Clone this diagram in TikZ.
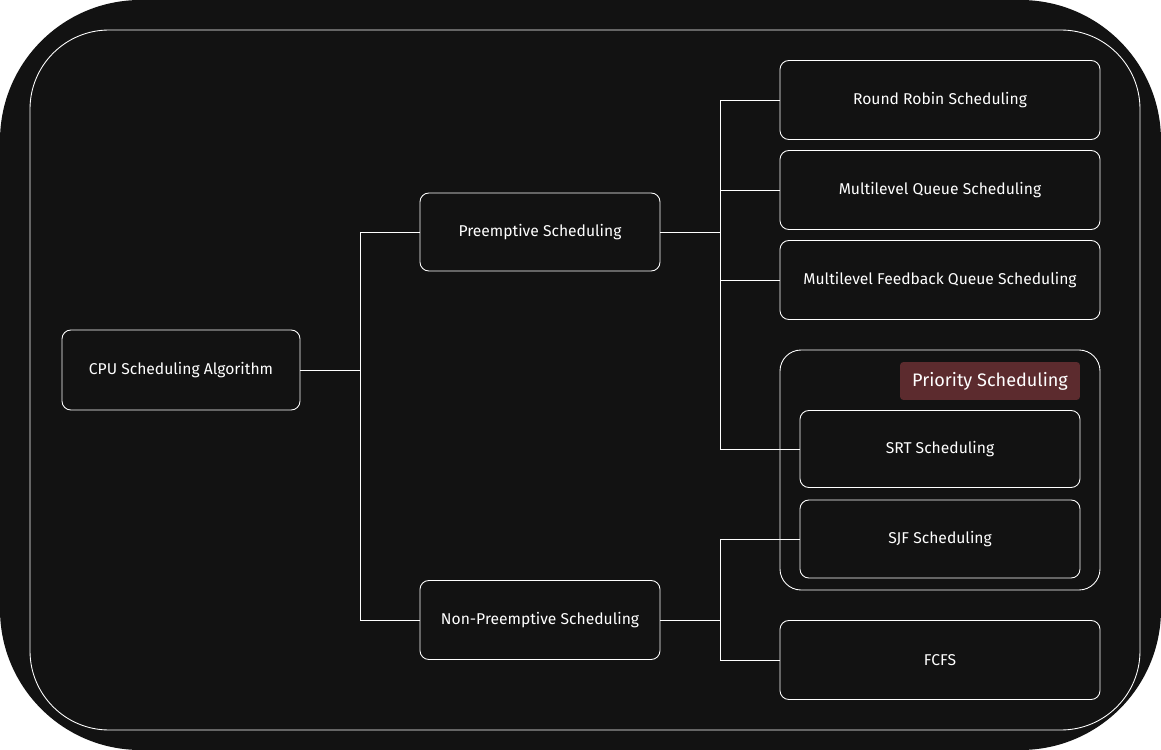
\documentclass[tikz,border=0pt]{standalone}
\usepackage{fontspec}
\setmainfont{Fira Sans}
\definecolor{bgdark}{HTML}{121212}
\definecolor{prio}{HTML}{5C2B2E}
\tikzset{
  box/.style={draw=white, rounded corners=5pt, fill=bgdark, text=white,
    font=\fontsize{8.9}{10}\selectfont, line width=0.5pt},
  link/.style={draw=white, line width=0.5pt}
}
\begin{document}
\begin{tikzpicture}[x=0.02cm, y=-0.02cm]
    \useasboundingbox (0,0) rectangle (1161,750);
    \fill[white] (0,0) rectangle (1161,750);
    \fill[black!93] (0,0) [rounded corners=80pt] rectangle (1161,750);
    \draw[white, line width=0.5pt, rounded corners=45pt] (30,30) rectangle (1140,730);

    % group
    \draw[white, line width=0.5pt, rounded corners=12pt] (780,350) rectangle (1100,590);
    \node[fill=prio, text=white, minimum width=3.6cm, minimum height=0.76cm,
      font=\fontsize{10.3}{12}\selectfont, rounded corners=2pt] (prio) at (990,381) {Priority Scheduling};

    % nodes
    \node[box, minimum width=4.76cm, minimum height=1.6cm] (cpu) at (181,370) {CPU Scheduling Algorithm};
    \node[box, minimum width=4.8cm, minimum height=1.56cm] (pre) at (540,232) {Preemptive Scheduling};
    \node[box, minimum width=4.8cm, minimum height=1.58cm] (non) at (540,620) {Non-Preemptive Scheduling};
    \node[box, minimum width=6.4cm, minimum height=1.58cm] (rr) at (940,100) {Round Robin Scheduling};
    \node[box, minimum width=6.4cm, minimum height=1.58cm] (mq) at (940,190) {Multilevel Queue Scheduling};
    \node[box, minimum width=6.4cm, minimum height=1.58cm] (mlfq) at (940,280) {Multilevel Feedback Queue Scheduling};
    \node[box, minimum width=5.6cm, minimum height=1.54cm] (srt) at (940,449) {SRT Scheduling};
    \node[box, minimum width=5.6cm, minimum height=1.56cm] (sjf) at (940,539) {SJF Scheduling};
    \node[box, minimum width=6.4cm, minimum height=1.58cm] (fcfs) at (940,660) {FCFS};

    % junctions
    \coordinate (jc) at (360,370);
    \coordinate (jp) at (720,232);
    \coordinate (jn) at (720,620);

    \draw[link] (cpu.east) -- (jc) |- (pre.west);
    \draw[link] (jc) |- (non.west);
    \draw[link] (pre.east) -- (jp) |- (rr.west);
    \draw[link] (jp) |- (mq.west);
    \draw[link] (jp) |- (mlfq.west);
    \draw[link] (jp) |- (srt.west);
    \draw[link] (non.east) -- (jn) |- (sjf.west);
    \draw[link] (jn) |- (fcfs.west);
\end{tikzpicture}
\end{document}
